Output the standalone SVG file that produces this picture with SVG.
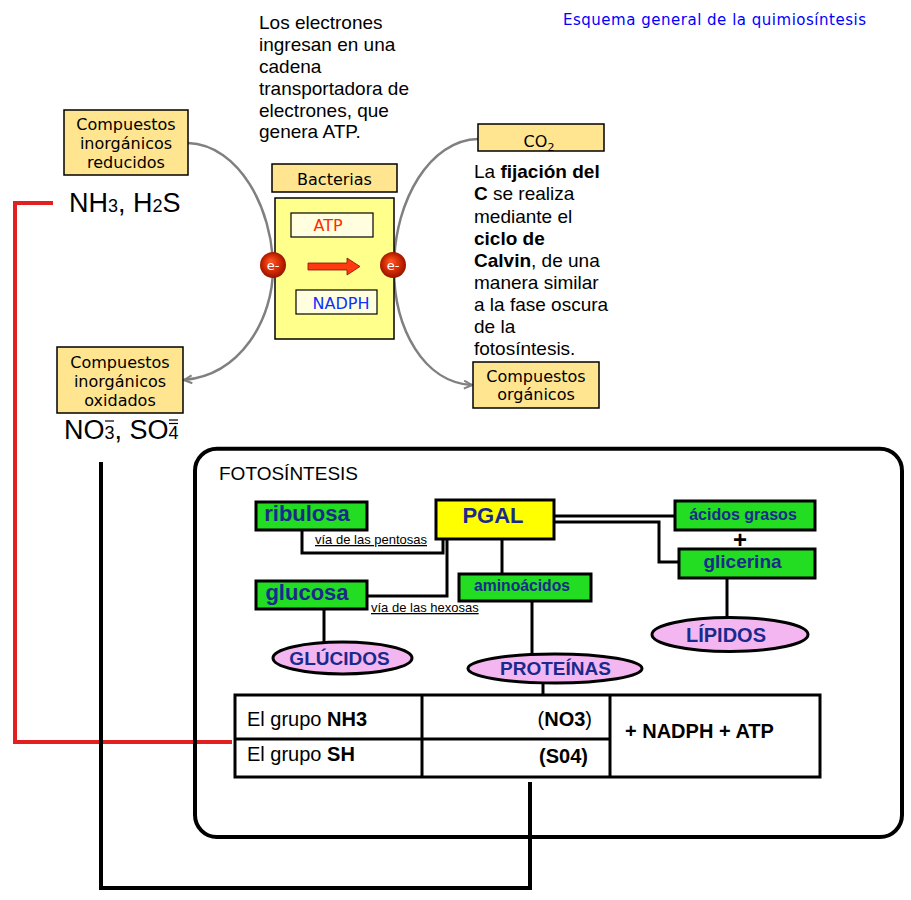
<svg xmlns="http://www.w3.org/2000/svg" width="911" height="900" viewBox="0 0 911 900">
<defs>
<style>
.lbl{font-family:"DejaVu Sans",sans-serif;font-size:16px;fill:#000;text-anchor:middle}
.ar{font-family:"Liberation Sans",Arial,sans-serif}
.para{font-family:"Liberation Sans",Arial,sans-serif;font-size:19px;fill:#000}
.cbox{fill:#ffe590;stroke:#000;stroke-width:1.5}
.gbox{fill:#22dd22;stroke:#000;stroke-width:3}
.ell{fill:#f4b6f0;stroke:#000;stroke-width:3}
.nv{font-family:"Liberation Sans",Arial,sans-serif;font-weight:bold;fill:#1a2a8c;text-anchor:middle}
.blk{fill:none;stroke:#000;stroke-width:3}
.gray{fill:none;stroke:#808080;stroke-width:2.5}
.tb{font-family:"Liberation Sans",Arial,sans-serif;font-size:20px;fill:#000}
.ul{font-family:"Liberation Sans",Arial,sans-serif;font-size:13px;fill:#000;text-decoration:underline}
</style>
<radialGradient id="eg" cx="0.5" cy="0.5" r="0.55" fx="0.4" fy="0.35">
<stop offset="0" stop-color="#ff5a2a"/>
<stop offset="0.6" stop-color="#d02800"/>
<stop offset="1" stop-color="#8a1000"/>
</radialGradient>
<marker id="ga" markerWidth="10" markerHeight="10" refX="9" refY="5" orient="auto" markerUnits="userSpaceOnUse">
<path d="M1,1 L9,5 L1,9" fill="none" stroke="#808080" stroke-width="2"/>
</marker>
</defs>
<rect width="911" height="900" fill="#fff"/>

<text id="title" x="563" y="25" font-family="DejaVu Sans,sans-serif" font-size="15" fill="#0000ff" textLength="303" lengthAdjust="spacing">Esquema general de la quimiosíntesis</text>

<g id="intro" class="para">
<text x="259" y="29.3">Los electrones</text>
<text x="259" y="51.1">ingresan en una</text>
<text x="259" y="72.9">cadena</text>
<text x="259" y="94.7">transportadora de</text>
<text x="259" y="116.5">electrones, que</text>
<text x="259" y="138.3">genera ATP.</text>
</g>

<g id="connectors">
<path class="gray" d="M188,143 C240,145 272,210 273,265 C274,320 240,375 184,380" marker-end="url(#ga)"/>
<path class="gray" d="M478,139 C430,140 395,200 394,265 C393,330 425,383 472,385" marker-end="url(#ga)"/>
<polyline points="53,203 15,203 15,742 232,742" fill="none" stroke="#e32020" stroke-width="4"/>
<polyline points="101,462 101,888 530,888 530,782" fill="none" stroke="#000" stroke-width="4"/>
<polyline class="blk" points="302,530 302,553 443,553 443,539"/>
<polyline class="blk" points="447,539 447,596 367,596"/>
<line class="blk" x1="502" y1="539" x2="502" y2="574"/>
<line class="blk" x1="532" y1="601" x2="532" y2="654"/>
<line class="blk" x1="543" y1="683" x2="543" y2="695"/>
<line class="blk" x1="324" y1="609" x2="324" y2="643"/>
<line class="blk" x1="554" y1="516" x2="675" y2="516"/>
<polyline class="blk" points="554,522 659,522 659,562 679,562"/>
<line class="blk" x1="727" y1="578" x2="727" y2="618"/>
</g>

<g id="reducidos">
<rect class="cbox" x="64" y="110" width="124" height="65"/>
<text class="lbl" x="126" y="130">Compuestos</text>
<text class="lbl" x="126" y="149">inorgánicos</text>
<text class="lbl" x="126" y="168">reducidos</text>
</g>
<g id="nh3" class="ar" font-size="27">
<text y="212"><tspan x="69">NH</tspan><tspan x="108" font-size="18">3</tspan><tspan x="118">, H</tspan><tspan x="152.5" font-size="18">2</tspan><tspan x="162.5">S</tspan></text>
</g>

<g id="oxidados">
<rect class="cbox" x="57" y="347" width="126" height="66"/>
<text class="lbl" x="120" y="368">Compuestos</text>
<text class="lbl" x="120" y="387">inorgánicos</text>
<text class="lbl" x="120" y="406">oxidados</text>
</g>
<g id="no3" class="ar" font-size="27">
<text y="439"><tspan x="64">NO</tspan><tspan x="104.5" font-size="18">3</tspan><tspan x="114.5">, SO</tspan><tspan x="168.5" font-size="18">4</tspan></text>
<line x1="105" y1="421" x2="114" y2="421" stroke="#000" stroke-width="1.2"/>
<line x1="169" y1="420" x2="178" y2="420" stroke="#000" stroke-width="1.2"/>
<line x1="169" y1="423.5" x2="178" y2="423.5" stroke="#000" stroke-width="1.2"/>
</g>

<g id="bacterias">
<rect class="cbox" x="272" y="164" width="125" height="28"/>
<text class="lbl" x="334.5" y="185">Bacterias</text>
<rect x="275" y="198" width="119" height="141" fill="#ffff8c" stroke="#000" stroke-width="1.5"/>
<rect x="291" y="213" width="82" height="24" fill="#ffffe0" stroke="#000" stroke-width="1.2"/>
<text class="lbl" x="328" y="231" style="fill:#ff2a00">ATP</text>
<rect x="296" y="290" width="81" height="24" fill="#ffffe0" stroke="#000" stroke-width="1.2"/>
<text class="lbl" x="341" y="309" style="fill:#1030ff">NADPH</text>
<polygon points="308,263 347,263 347,258 360,266.5 347,275 347,270 308,270" fill="#ff3a10" stroke="#801000" stroke-width="0.8"/>
</g>
<g id="e1">
<circle cx="273" cy="265" r="13" fill="url(#eg)"/>
<text x="273" y="270" font-family="DejaVu Sans,sans-serif" font-size="13" fill="#fff" text-anchor="middle">e-</text>
</g>
<g id="e2">
<circle cx="393" cy="265" r="13" fill="url(#eg)"/>
<text x="393" y="270" font-family="DejaVu Sans,sans-serif" font-size="13" fill="#fff" text-anchor="middle">e-</text>
</g>

<g id="co2">
<rect class="cbox" x="478" y="124" width="126" height="27"/>
<text class="lbl" x="539" y="146.5">CO<tspan font-size="11" dy="4">2</tspan></text>
</g>

<g id="calvin" class="para">
<text x="474" y="178.3">La <tspan font-weight="bold">fijación del</tspan></text>
<text x="474" y="200.4"><tspan font-weight="bold">C</tspan> se realiza</text>
<text x="474" y="222.5">mediante el</text>
<text x="474" y="244.6" font-weight="bold">ciclo de</text>
<text x="474" y="266.7"><tspan font-weight="bold">Calvin</tspan>, de una</text>
<text x="474" y="288.8">manera similar</text>
<text x="474" y="310.9">a la fase oscura</text>
<text x="474" y="333">de la</text>
<text x="474" y="355.1">fotosíntesis.</text>
</g>

<g id="organicos">
<rect class="cbox" x="473" y="362" width="126" height="46"/>
<text class="lbl" x="536" y="382">Compuestos</text>
<text class="lbl" x="536" y="400">orgánicos</text>
</g>

<g id="fotosintesis">
<rect x="195" y="448.7" width="707" height="388.3" rx="22" fill="none" stroke="#000" stroke-width="4"/>
<text x="219" y="480" font-family="Liberation Sans,Arial,sans-serif" font-size="19">FOTOSÍNTESIS</text>
</g>

<g id="ribulosa">
<rect class="gbox" x="256" y="502" width="111" height="28"/>
<text class="nv" x="307" y="521" font-size="22">ribulosa</text>
</g>
<text class="ul" x="315" y="544">vía de las pentosas</text>

<g id="pgal">
<rect x="436" y="500" width="118" height="39" fill="#ffff00" stroke="#000" stroke-width="3"/>
<text class="nv" x="493" y="523" font-size="22">PGAL</text>
</g>

<g id="glucosa">
<rect class="gbox" x="256" y="581" width="111" height="28"/>
<text class="nv" x="307" y="600" font-size="22">glucosa</text>
</g>
<text class="ul" x="371" y="612">vía de las hexosas</text>

<g id="glucidos">
<ellipse class="ell" cx="342.5" cy="658" rx="69.5" ry="16"/>
<text class="nv" x="339.5" y="665" font-size="19">GLÚCIDOS</text>
</g>

<g id="aminoacidos">
<rect class="gbox" x="459" y="574" width="132" height="27"/>
<text class="nv" x="522" y="591" font-size="15.7">aminoácidos</text>
</g>

<g id="proteinas">
<ellipse class="ell" cx="555" cy="668.5" rx="87" ry="14.5"/>
<text class="nv" x="555.5" y="675" font-size="19">PROTEÍNAS</text>
</g>

<g id="acidos">
<rect class="gbox" x="675" y="501" width="140" height="29"/>
<text class="nv" x="743" y="520" font-size="16">ácidos grasos</text>
</g>
<text x="740" y="548" font-family="Liberation Sans,Arial,sans-serif" font-size="24" font-weight="bold" text-anchor="middle">+</text>

<g id="glicerina">
<rect class="gbox" x="679" y="549" width="136" height="29"/>
<text class="nv" x="742.5" y="568" font-size="19">glicerina</text>
</g>

<g id="lipidos">
<ellipse class="ell" cx="730" cy="634.5" rx="78" ry="17"/>
<text class="nv" x="726" y="642" font-size="20">LÍPIDOS</text>
</g>

<g id="tabla">
<rect x="235" y="695" width="585" height="82" fill="#fff" stroke="#000" stroke-width="3"/>
<line x1="422" y1="695" x2="422" y2="777" stroke="#000" stroke-width="3"/>
<line x1="610" y1="695" x2="610" y2="777" stroke="#000" stroke-width="3"/>
<line x1="235" y1="739" x2="610" y2="739" stroke="#000" stroke-width="3"/>
<text class="tb" x="247" y="726">El grupo <tspan font-weight="bold">NH3</tspan></text>
<text class="tb" x="592" y="726" text-anchor="end">(<tspan font-weight="bold">NO3</tspan>)</text>
<text class="tb" x="247" y="761">El grupo <tspan font-weight="bold">SH</tspan></text>
<text class="tb" x="588" y="763" text-anchor="end" font-weight="bold">(S04)</text>
<text class="tb" x="625" y="738" font-weight="bold">+ NADPH + ATP</text>
</g>
</svg>
